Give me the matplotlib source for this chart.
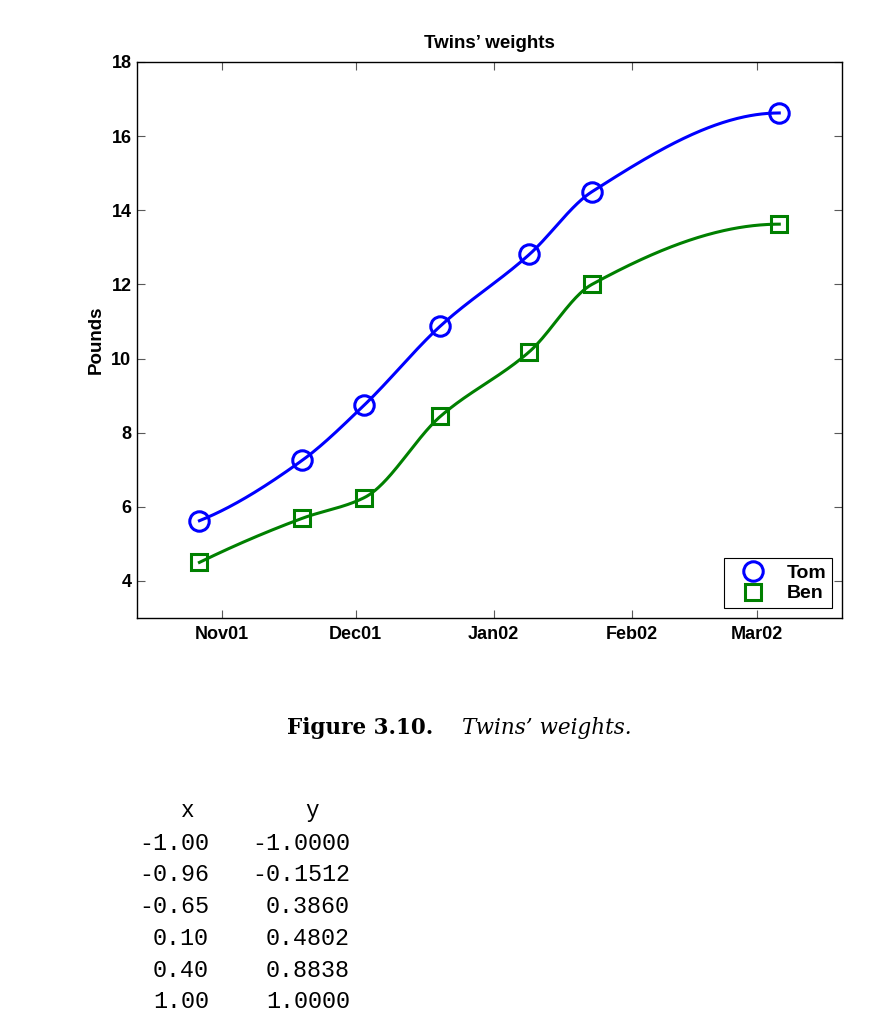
import numpy as np
import matplotlib
matplotlib.use('Agg')
import matplotlib.pyplot as plt
import matplotlib.dates as mdates
from matplotlib.lines import Line2D

# weigh-in dates and weights (pounds)
dates = ['2001-10-27', '2001-11-19', '2001-12-03', '2001-12-20',
         '2002-01-09', '2002-01-23', '2002-03-06']
tom = [5.625, 7.25, 8.75, 10.875, 12.8125, 14.5, 16.625]
ben = [4.5, 5.6875, 6.25, 8.4375, 10.1875, 12.0, 13.625]
tick_dates = ['2001-11-01', '2001-12-01', '2002-01-01', '2002-02-01', '2002-03-01']
tick_labels = ['Nov01', 'Dec01', 'Jan02', 'Feb02', 'Mar02']
xlim_dates = ['2001-10-13', '2002-03-20']

# table printed under the figure
tab_x = ['-1.00', '-0.96', '-0.65', '0.10', '0.40', '1.00']
tab_y = ['-1.0000', '-0.1512', '0.3860', '0.4802', '0.8838', '1.0000']


def pchip(x, y, xx):
    # shape preserving piecewise cubic, same slopes as matlab pchip
    x = np.asarray(x, float)
    y = np.asarray(y, float)
    h = np.diff(x)
    delta = np.diff(y) / h
    n = len(x)
    s = np.zeros(n)
    for k in range(1, n - 1):
        if delta[k - 1] * delta[k] > 0:
            w1 = 2 * h[k] + h[k - 1]
            w2 = h[k] + 2 * h[k - 1]
            s[k] = (w1 + w2) / (w1 / delta[k - 1] + w2 / delta[k])

    def end_slope(h1, h2, d1, d2):
        e = ((2 * h1 + h2) * d1 - h1 * d2) / (h1 + h2)
        if np.sign(e) != np.sign(d1):
            e = 0.0
        elif np.sign(d1) != np.sign(d2) and abs(e) > abs(3 * d1):
            e = 3 * d1
        return e

    s[0] = end_slope(h[0], h[1], delta[0], delta[1])
    s[-1] = end_slope(h[-1], h[-2], delta[-1], delta[-2])

    idx = np.clip(np.searchsorted(x, xx) - 1, 0, n - 2)
    t = xx - x[idx]
    hk = h[idx]
    dk = delta[idx]
    c = (3 * dk - 2 * s[idx] - s[idx + 1]) / hk
    b = (s[idx] - 2 * dk + s[idx + 1]) / hk ** 2
    return y[idx] + t * (s[idx] + t * (c + t * b))


d = mdates.datestr2num(dates)
dd = np.linspace(d[0], d[-1], 400)

plt.rcParams['font.family'] = ['Liberation Sans', 'DejaVu Sans']

fig = plt.figure(figsize=(8.72, 10.24), dpi=100)
ax = fig.add_axes([137 / 872, 1 - 618 / 1024, (841.7 - 137) / 872, (618 - 62) / 1024])

ax.plot(dd, pchip(d, tom, dd), color='blue', lw=2.2)
ax.plot(dd, pchip(d, ben, dd), color=(0, 0.5, 0), lw=2.2)
ax.plot(d, tom, 'o', ms=14, mfc='none', mec='blue', mew=2.2)
ax.plot(d, ben, 's', ms=12, mfc='none', mec=(0, 0.5, 0), mew=2.2)

ax.set_xlim(mdates.datestr2num(xlim_dates))
ax.set_ylim(3, 18)
ax.set_xticks(mdates.datestr2num(tick_dates))
ax.set_xticklabels(tick_labels)
ax.set_yticks(np.arange(4, 19, 2))
ax.tick_params(direction='in', length=6, width=0.8, color='0.35',
               top=True, right=True, labelsize=13, pad=6)
ax.tick_params(axis='y', pad=4)
for lab in ax.get_xticklabels() + ax.get_yticklabels():
    lab.set_fontweight('bold')
for s in ax.spines.values():
    s.set_linewidth(1.0)

ax.set_title('Twins\u2019 weights', fontsize=13.5, fontweight='bold', pad=10)
ax.set_ylabel('Pounds', fontsize=13.5, fontweight='bold', labelpad=5)

handles = [Line2D([], [], ls='none', marker='o', ms=14, mfc='none', mec='blue', mew=2.2),
           Line2D([], [], ls='none', marker='s', ms=12, mfc='none', mec=(0, 0.5, 0), mew=2.2)]
leg = ax.legend(handles, ['Tom', 'Ben'], loc='lower right',
                prop={'weight': 'bold', 'size': 14}, fancybox=False,
                edgecolor='black', framealpha=1, borderaxespad=0.5,
                handlelength=2.4, handletextpad=0.5, labelspacing=0.15,
                borderpad=0.3)
leg.get_frame().set_linewidth(0.8)

# caption
fig.text(287 / 872, 1 - 734 / 1024, 'Figure 3.10.', fontfamily='DejaVu Serif',
         fontweight='bold', fontsize=15.5, ha='left', va='baseline')
fig.text(462 / 872, 1 - 734 / 1024, 'Twins\u2019 weights.', fontfamily='DejaVu Serif',
         fontstyle='italic', fontsize=15.5, ha='left', va='baseline')

# table
mono = 'Liberation Mono'
fig.text(188 / 872, 1 - 817 / 1024, 'x', fontfamily=mono, fontsize=16.3,
         ha='center', va='baseline')
fig.text(312 / 872, 1 - 817 / 1024, 'y', fontfamily=mono, fontsize=16.3,
         ha='center', va='baseline')
for i in range(len(tab_x)):
    yb = 1 - (849.5 + 31.8 * i) / 1024
    fig.text(209 / 872, yb, tab_x[i], fontfamily=mono, fontsize=16.8,
             ha='right', va='baseline')
    fig.text(350 / 872, yb, tab_y[i], fontfamily=mono, fontsize=16.8,
             ha='right', va='baseline')

fig.savefig('out.png', dpi=100)
